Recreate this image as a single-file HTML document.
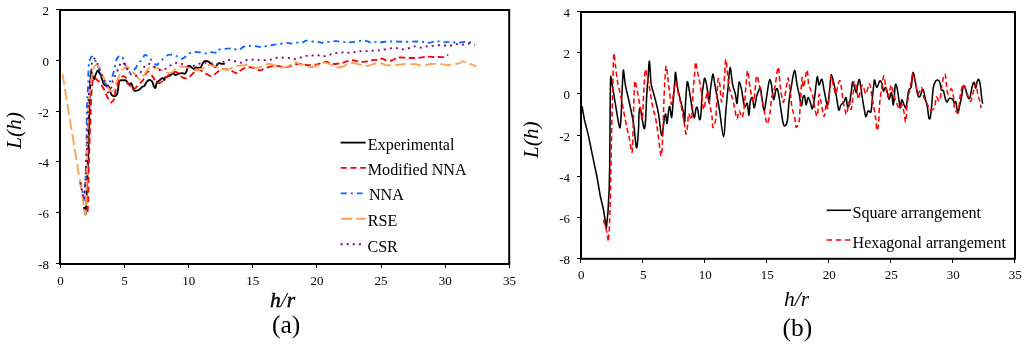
<!DOCTYPE html>
<html><head><meta charset="utf-8"><title>L(h) plots</title>
<style>
html,body{margin:0;padding:0;background:#fff;}
body{width:1024px;height:344px;overflow:hidden;font-family:"Liberation Serif","Times New Roman",serif;}
svg{display:block;}
text{font-family:"Liberation Serif","Times New Roman",serif;fill:#000;}
.tk{font-size:13px;}
.lg{font-size:16.1px;}
.lgb{font-size:16px;}
.ax{font-size:21.5px;font-style:italic;}
.axb{font-size:21.5px;font-style:italic;font-weight:bold;}
.cap{font-size:25.5px;}
.c{fill:none;stroke-width:1.85;stroke-linejoin:round;}
</style></head><body>
<svg width="1024" height="344" viewBox="0 0 1024 344">
<rect width="1024" height="344" fill="#fff"/>
<!-- plot (a) -->
<g id="pa">
<g class="c">
<path d="M84.0,207.0 L85.5,214.5 L86.0,207.7 L86.8,191.0 L88.4,150.0 L89.3,110.0 L90.2,82.6 L91.3,71.3 C91.5,71.9 91.8,73.7 92.3,75.0 C92.8,76.3 93.6,79.4 94.1,79.4 C94.6,79.4 94.9,76.5 95.5,75.0 C96.1,73.5 96.9,71.1 97.5,70.7 C98.1,70.3 98.7,71.7 99.3,72.6 C99.9,73.5 100.3,74.3 101.0,76.0 C101.7,77.7 102.6,81.5 103.3,83.0 C104.0,84.5 104.3,84.8 105.1,85.2 C105.9,85.6 107.2,85.0 108.0,85.6 C108.8,86.2 109.3,87.7 109.8,89.0 C110.3,90.3 110.4,92.6 110.9,93.7 C111.4,94.8 112.0,95.4 112.7,95.8 C113.4,96.2 114.3,96.3 115.0,96.1 C115.7,95.8 116.6,95.4 117.1,94.3 C117.6,93.2 117.7,91.3 118.0,89.6 C118.3,87.9 118.4,85.5 118.7,84.0 C119.0,82.5 118.9,81.2 119.7,80.6 C120.5,80.0 122.7,80.3 123.8,80.3 C124.9,80.3 125.6,80.1 126.2,80.6 C126.8,81.0 127.0,82.4 127.6,83.0 C128.2,83.6 129.1,84.4 129.7,84.4 C130.3,84.4 130.7,82.9 131.2,83.2 C131.7,83.5 132.2,85.3 132.6,86.5 C133.0,87.7 133.3,89.5 133.8,90.2 C134.3,90.9 134.7,90.9 135.6,90.8 C136.5,90.7 138.2,90.2 139.1,89.7 C140.0,89.2 140.5,88.4 141.1,87.9 C141.7,87.4 142.0,86.8 142.6,86.5 C143.2,86.2 143.8,86.7 144.4,86.0 C145.0,85.3 145.4,83.6 146.2,82.6 C147.0,81.6 148.1,80.2 149.1,80.0 C150.1,79.8 151.2,80.4 152.0,81.4 C152.8,82.4 153.2,85.0 153.8,86.1 C154.4,87.2 155.0,88.5 155.5,87.9 C156.0,87.3 156.0,83.9 156.7,82.6 C157.4,81.3 158.6,81.0 159.6,80.2 C160.6,79.4 161.8,77.9 162.6,77.9 C163.4,77.9 163.8,80.3 164.3,80.2 C164.8,80.1 164.7,78.0 165.5,77.3 C166.3,76.6 168.0,76.6 169.0,76.1 C170.0,75.6 170.7,74.9 171.4,74.4 C172.1,73.9 172.4,73.1 173.1,73.2 C173.8,73.3 174.6,74.9 175.5,75.0 C176.4,75.1 177.4,74.1 178.5,73.8 C179.6,73.5 180.9,73.1 182.0,73.1 C183.1,73.1 184.2,74.1 185.0,73.7 C185.8,73.3 186.2,72.0 186.7,70.8 C187.2,69.6 187.4,67.5 187.9,66.7 C188.4,65.9 189.1,65.8 189.7,65.9 C190.3,66.0 190.7,66.8 191.4,67.3 C192.1,67.8 193.1,69.0 193.8,69.0 C194.5,69.0 194.8,67.5 195.5,67.3 C196.2,67.1 197.0,67.9 197.9,67.9 C198.8,67.9 200.0,68.0 200.8,67.3 C201.6,66.6 201.9,64.8 202.5,63.8 C203.1,62.8 203.5,61.8 204.3,61.4 C205.1,61.0 206.3,61.0 207.2,61.2 C208.1,61.4 208.8,62.1 209.6,62.6 C210.4,63.1 211.2,63.7 211.9,64.3 C212.6,64.9 213.1,65.6 213.7,66.1 C214.3,66.6 214.8,67.5 215.4,67.3 C216.0,67.1 216.4,65.6 217.0,64.9 C217.6,64.2 218.3,63.4 219.0,63.2 C219.7,63.0 220.3,63.7 221.3,63.8 C222.3,63.9 224.2,63.8 224.8,63.8" stroke="#000"/>
<path d="M87.6,212.0 L88.3,200.0 L88.5,175.0 L89.3,150.0 L90.7,110.0 L91.7,88.4 C91.9,87.0 92.3,82.0 92.8,80.2 C93.3,78.4 93.9,77.7 94.5,77.5 C95.1,77.3 95.4,78.4 96.3,79.2 C97.2,80.0 98.7,81.1 99.8,82.4 C100.9,83.8 101.9,85.9 102.7,87.3 C103.5,88.7 104.1,89.4 104.8,90.8 C105.5,92.2 106.2,94.4 106.8,95.8 C107.4,97.2 107.9,98.2 108.6,99.3 C109.3,100.4 110.1,102.2 110.8,102.5 C111.5,102.8 112.1,102.0 112.7,101.3 C113.3,100.5 114.0,99.7 114.5,98.0 C115.0,96.3 115.1,92.7 115.4,91.0 C115.7,89.3 115.9,89.3 116.3,88.0 C116.7,86.7 117.5,84.7 118.0,83.2 C118.5,81.7 118.8,80.1 119.5,79.0 C120.2,77.9 121.4,77.0 122.1,76.5 C122.8,76.0 123.1,76.0 123.8,76.2 C124.5,76.5 125.5,76.8 126.2,78.0 C126.9,79.2 127.2,82.2 127.9,83.6 C128.6,84.9 129.5,85.1 130.3,86.1 C131.1,87.0 131.8,88.8 132.5,89.3 C133.2,89.8 133.7,89.5 134.4,89.0 C135.2,88.5 136.0,87.4 137.0,86.4 C138.0,85.4 139.2,84.1 140.2,83.0 C141.2,81.9 142.2,81.6 143.2,80.0 C144.2,78.4 145.3,74.6 146.2,73.2 C147.1,71.8 147.5,71.3 148.5,71.7 C149.5,72.1 150.9,74.2 152.0,75.6 C153.1,77.0 153.9,78.9 155.0,80.2 C156.1,81.5 157.3,83.0 158.5,83.2 C159.7,83.4 160.8,82.3 162.0,81.4 C163.2,80.5 164.3,79.0 165.5,77.9 C166.7,76.8 167.5,76.0 169.0,75.0 C170.5,74.0 172.8,72.4 174.3,72.0 C175.8,71.6 177.0,72.2 178.0,72.8 C179.0,73.4 179.4,74.7 180.3,75.5 C181.2,76.3 181.9,77.4 183.2,77.8 C184.5,78.2 186.5,78.3 187.9,77.8 C189.3,77.3 190.1,76.0 191.4,74.9 C192.7,73.8 194.1,72.3 195.5,71.4 C196.9,70.5 198.3,69.5 199.6,69.6 C200.9,69.7 201.8,71.2 203.1,72.0 C204.4,72.8 205.8,73.6 207.2,74.3 C208.6,75.0 210.0,76.1 211.3,76.1 C212.6,76.1 213.6,75.2 214.9,74.3 C216.2,73.4 217.6,71.7 219.0,70.8 C220.4,69.9 221.6,69.2 223.1,69.0 C224.6,68.8 226.4,69.3 227.8,69.6 C229.2,69.9 230.0,70.3 231.3,70.8 C232.6,71.3 234.2,72.4 235.4,72.8 C236.6,73.2 237.5,73.4 238.3,73.1 C239.1,72.8 239.1,71.6 240.1,70.8 C241.1,70.0 242.8,69.0 244.2,68.4 C245.6,67.8 246.7,67.4 248.3,67.3 C249.9,67.2 252.4,67.3 254.0,67.8 C255.6,68.2 256.8,69.6 258.0,70.0 C259.2,70.4 260.2,70.5 261.2,70.2 C262.2,69.9 262.6,69.0 264.1,68.4 C265.6,67.8 268.2,67.1 270.0,66.7 C271.8,66.3 273.1,66.0 274.7,65.9 C276.2,65.8 277.8,65.9 279.3,66.1 C280.9,66.3 282.6,67.2 284.0,67.3 C285.4,67.4 286.4,67.2 287.5,66.9 C288.6,66.7 289.2,66.3 290.9,65.8 C292.6,65.3 295.8,64.2 297.9,64.0 C300.0,63.8 302.1,64.4 303.8,64.6 C305.6,64.8 306.3,65.2 308.4,65.2 C310.4,65.2 314.1,64.9 316.1,64.6 C318.1,64.3 318.6,63.9 320.2,63.4 C321.8,62.9 324.4,61.7 326.0,61.7 C327.6,61.7 328.5,63.0 330.1,63.4 C331.7,63.8 333.3,64.1 335.4,64.0 C337.4,63.9 340.5,63.2 342.4,62.8 C344.2,62.4 344.9,61.8 346.5,61.4 C348.1,61.0 350.3,60.3 351.8,60.2 C353.3,60.1 353.9,60.5 355.3,60.7 C356.7,61.0 358.4,61.5 360.0,61.7 C361.6,61.9 363.1,61.9 364.7,61.7 C366.3,61.5 367.9,61.0 369.4,60.7 C370.9,60.4 372.1,60.0 373.5,59.9 C374.9,59.8 376.2,60.1 377.6,59.9 C379.0,59.7 380.1,58.6 381.7,58.7 C383.3,58.8 385.3,60.2 387.0,60.5 C388.7,60.8 390.2,60.9 391.7,60.5 C393.2,60.1 394.9,58.9 396.2,58.4 C397.5,57.9 397.8,57.6 399.7,57.5 C401.6,57.4 405.0,57.8 407.9,57.9 C410.8,58.0 414.6,58.0 417.3,57.9 C420.0,57.8 422.5,57.2 424.3,57.0 C426.1,56.8 426.7,56.7 428.4,56.7 C430.1,56.7 432.5,57.0 434.3,57.0 C436.1,57.0 437.4,57.0 439.0,57.0 C440.6,57.0 442.4,57.5 443.7,57.2 C445.0,56.9 445.8,55.5 446.6,55.2 C447.4,54.9 448.0,55.2 448.3,55.2" stroke="#FF0000" stroke-dasharray="6.2 3.5"/>
<path d="M80.0,181.0 L84.3,200.0 L85.3,181.0 L86.6,150.0 L86.7,110.0 L88.2,83.0 L88.2,78.0 C88.3,76.0 88.5,68.8 88.7,66.0 C88.9,63.2 89.1,62.6 89.6,61.0 C90.1,59.4 90.7,56.8 91.5,56.5 C92.3,56.2 93.3,58.2 94.3,59.4 C95.2,60.6 96.4,62.3 97.2,63.8 C98.0,65.3 98.6,66.8 99.2,68.6 C99.8,70.4 100.4,73.1 101.0,74.8 C101.6,76.5 102.0,77.2 102.7,78.6 C103.4,80.0 104.3,81.9 105.1,83.0 C105.8,84.1 106.5,85.0 107.2,85.0 C107.9,85.0 108.5,84.0 109.2,83.0 C109.9,82.0 110.5,80.5 111.2,78.9 C111.9,77.3 112.8,75.3 113.3,73.6 C113.8,71.8 114.1,70.0 114.5,68.4 C114.9,66.8 115.2,65.4 115.6,63.8 C116.0,62.2 116.1,60.0 116.8,58.7 C117.5,57.4 118.7,56.3 119.5,56.0 C120.3,55.7 120.7,56.2 121.5,56.9 C122.3,57.6 123.7,59.0 124.4,60.4 C125.1,61.8 125.1,63.8 125.6,65.5 C126.1,67.2 126.7,69.4 127.4,70.5 C128.1,71.6 129.2,72.1 130.0,72.3 C130.8,72.5 131.5,72.2 132.5,71.5 C133.5,70.8 134.9,69.2 135.8,67.9 C136.8,66.6 137.2,64.9 138.2,63.5 C139.2,62.1 140.9,61.1 142.0,59.7 C143.1,58.3 143.8,55.6 144.6,55.0 C145.4,54.4 146.1,55.2 147.0,55.8 C147.9,56.4 148.8,57.3 150.3,58.8 C151.8,60.3 154.6,63.7 155.9,64.6 C157.2,65.5 157.1,64.7 158.0,64.0 C158.9,63.3 159.8,62.0 161.4,60.5 C163.1,59.0 165.8,55.9 167.9,55.0 C170.1,54.1 172.8,55.0 174.3,55.2 C175.9,55.4 176.0,55.8 177.2,56.4 C178.4,57.0 180.3,58.6 181.4,58.8 C182.5,59.0 183.1,58.3 184.0,57.8 C184.9,57.2 185.7,56.3 186.7,55.5 C187.7,54.7 188.9,53.6 190.2,53.0 C191.5,52.4 192.5,52.1 194.3,52.0 C196.1,51.9 198.9,52.1 200.8,52.3 C202.7,52.5 203.9,53.4 205.5,53.4 C207.1,53.4 208.5,52.1 210.2,52.0 C211.8,51.9 214.2,53.0 215.4,52.6 C216.6,52.2 215.9,50.5 217.2,49.9 C218.5,49.3 220.9,49.4 223.1,49.1 C225.2,48.8 228.2,48.3 230.1,48.3 C231.9,48.2 232.8,48.5 234.2,48.8 C235.6,49.1 236.8,50.6 238.3,50.3 C239.8,50.0 241.5,47.8 243.0,47.1 C244.5,46.4 245.5,46.1 247.1,45.9 C248.7,45.7 250.4,45.8 252.4,45.9 C254.4,46.0 257.6,46.6 259.4,46.8 C261.1,46.9 261.5,46.9 262.9,46.8 C264.3,46.6 266.0,46.2 267.6,45.9 C269.2,45.6 270.4,45.3 272.3,45.0 C274.2,44.7 276.6,44.4 279.0,44.0 C281.4,43.6 284.9,43.0 286.8,42.9 C288.7,42.8 288.7,43.5 290.3,43.5 C291.9,43.5 294.6,42.9 296.7,42.7 C298.8,42.5 301.0,42.6 302.6,42.3 C304.2,41.9 304.5,40.7 306.1,40.6 C307.7,40.5 310.1,41.3 312.0,41.5 C313.9,41.7 315.6,41.5 317.2,41.7 C318.8,41.9 319.8,42.6 321.3,42.7 C322.8,42.8 324.2,42.3 326.0,42.1 C327.8,41.9 330.3,41.9 331.9,41.7 C333.5,41.5 333.8,41.1 335.4,41.1 C337.0,41.1 339.5,41.3 341.3,41.5 C343.1,41.7 344.6,42.2 346.0,42.3 C347.4,42.4 347.9,42.4 349.5,42.3 C351.1,42.2 353.9,41.8 355.9,41.5 C357.8,41.2 359.5,40.7 361.2,40.6 C362.9,40.5 364.2,40.4 365.9,40.8 C367.6,41.1 369.4,42.6 371.2,42.7 C372.9,42.9 374.9,41.8 376.4,41.7 C377.9,41.6 378.4,42.3 380.0,42.3 C381.6,42.3 384.1,41.8 385.8,41.7 C387.6,41.6 388.9,41.5 390.5,41.5 C392.1,41.5 393.3,41.5 395.2,41.5 C397.1,41.5 399.7,41.7 402.0,41.7 C404.3,41.7 406.8,41.7 409.1,41.7 C411.5,41.7 414.0,41.5 416.1,41.5 C418.2,41.5 420.3,41.5 422.0,41.7 C423.7,41.9 424.6,42.8 426.1,42.9 C427.7,43.0 429.7,42.5 431.3,42.3 C432.9,42.1 434.3,41.6 436.0,41.5 C437.7,41.4 439.6,41.4 441.3,41.5 C443.0,41.6 444.3,42.3 446.0,42.3 C447.7,42.3 449.6,41.4 451.3,41.5 C453.0,41.6 454.4,42.8 456.0,42.9 C457.6,43.0 459.4,42.5 461.2,42.3 C462.9,42.1 464.8,41.6 466.5,41.7 C468.2,41.8 470.4,42.5 471.2,42.7" stroke="#0868FF" stroke-dasharray="6 3.8 2.2 3.9"/>
<path d="M62.5,74.0 L85.4,215.0 L86.9,180.0 L87.2,150.0 L88.1,110.0 L89.6,93.0 C89.9,90.5 90.8,82.1 91.5,78.0 C92.2,73.9 92.9,70.7 93.7,68.5 C94.5,66.3 95.6,65.0 96.6,64.9 C97.6,64.8 99.1,66.8 99.8,68.0 C100.5,69.2 100.1,70.0 101.0,72.0 C101.9,74.0 104.0,77.8 105.1,80.2 C106.2,82.6 106.6,84.7 107.4,86.4 C108.2,88.1 109.1,89.4 109.8,90.2 C110.5,91.0 110.7,91.5 111.5,91.4 C112.3,91.3 113.8,90.9 114.5,89.6 C115.2,88.3 115.1,86.0 115.9,83.8 C116.7,81.5 118.1,78.5 119.2,76.1 C120.3,73.7 121.4,71.2 122.7,69.5 C124.0,67.8 125.8,66.3 126.8,66.1 C127.8,65.9 128.0,67.4 128.8,68.2 C129.6,69.0 130.3,69.7 131.5,70.9 C132.7,72.1 134.9,74.1 136.2,75.5 C137.5,76.9 138.2,78.5 139.1,79.1 C140.0,79.7 140.7,79.6 141.5,79.0 C142.3,78.4 142.7,77.2 143.8,75.5 C144.9,73.8 146.7,70.8 147.9,69.1 C149.1,67.4 149.9,65.9 150.9,65.6 C151.9,65.3 152.2,66.6 153.8,67.3 C155.5,68.0 158.9,68.9 160.8,69.7 C162.8,70.5 164.1,71.4 165.5,72.0 C166.9,72.6 167.7,73.3 169.0,73.2 C170.3,73.1 171.7,72.4 173.1,71.4 C174.5,70.4 175.8,68.1 177.3,67.3 C178.8,66.5 180.4,66.5 182.0,66.5 C183.6,66.5 185.1,66.9 186.7,67.3 C188.3,67.7 190.1,68.5 191.4,69.0 C192.7,69.5 192.7,70.2 194.3,70.2 C195.9,70.2 198.8,69.6 200.8,69.0 C202.8,68.4 204.8,67.4 206.1,66.7 C207.4,66.0 207.3,65.1 208.4,64.9 C209.5,64.7 210.7,65.0 212.5,65.5 C214.3,66.0 217.1,67.3 219.0,67.9 C220.9,68.5 222.5,68.7 224.2,69.0 C225.8,69.3 227.4,70.0 228.9,69.6 C230.4,69.2 231.6,67.3 233.0,66.7 C234.4,66.1 235.5,66.1 237.1,65.9 C238.7,65.7 240.6,65.7 242.4,65.5 C244.2,65.3 246.2,64.8 247.7,64.9 C249.2,65.0 249.8,65.6 251.2,66.1 C252.6,66.6 254.2,67.8 255.9,67.9 C257.6,68.0 259.6,67.2 261.2,66.7 C262.8,66.2 263.9,65.4 265.3,64.9 C266.7,64.4 267.8,63.7 269.4,63.8 C271.0,63.9 273.5,65.0 275.2,65.5 C276.9,66.0 278.0,66.4 279.3,66.7 C280.6,67.0 281.5,67.5 282.9,67.5 C284.3,67.5 286.0,67.1 287.5,66.5 C289.0,65.9 290.6,64.7 292.0,64.0 C293.4,63.3 294.7,62.1 296.1,62.2 C297.5,62.3 298.6,64.2 300.2,64.6 C301.8,65.0 303.9,64.1 305.5,64.6 C307.1,65.1 307.9,67.2 309.6,67.5 C311.3,67.8 313.7,66.9 315.5,66.3 C317.3,65.7 318.8,64.6 320.2,64.0 C321.6,63.4 322.1,62.6 323.7,62.6 C325.2,62.6 327.8,63.4 329.5,64.0 C331.2,64.6 332.7,65.7 334.2,66.3 C335.7,66.9 336.7,67.5 338.3,67.5 C339.9,67.5 341.9,67.0 343.6,66.3 C345.3,65.6 346.8,64.0 348.3,63.4 C349.8,62.8 350.8,62.7 352.4,62.8 C354.0,62.9 356.0,63.6 357.7,64.0 C359.4,64.4 360.8,64.9 362.4,65.2 C364.0,65.5 365.5,66.2 367.1,66.1 C368.7,66.0 370.1,65.1 371.8,64.6 C373.6,64.0 376.1,63.0 377.6,62.8 C379.2,62.6 379.7,63.0 381.1,63.4 C382.5,63.8 384.2,64.9 385.8,65.2 C387.4,65.5 388.8,65.2 390.5,65.2 C392.2,65.2 394.1,65.3 395.8,65.2 C397.5,65.1 399.2,64.8 400.5,64.6 C401.8,64.4 402.2,64.0 403.8,64.0 C405.4,64.0 408.2,64.3 410.2,64.3 C412.1,64.3 413.9,63.9 415.5,64.0 C417.1,64.2 417.9,65.0 419.6,65.2 C421.3,65.4 423.7,65.4 425.5,65.2 C427.3,65.0 427.9,64.2 430.2,64.0 C432.5,63.8 437.1,63.9 439.5,64.0 C441.9,64.1 443.3,64.4 444.8,64.6 C446.3,64.8 446.6,65.3 448.3,65.2 C450.0,65.1 453.0,64.3 454.8,64.0 C456.6,63.7 457.5,63.8 458.9,63.4 C460.3,63.0 461.5,61.4 463.0,61.4 C464.5,61.4 466.1,62.9 467.7,63.4 C469.3,63.9 470.9,64.1 472.4,64.6 C473.9,65.1 475.8,66.3 476.5,66.6" stroke="#FFA150" stroke-dasharray="11 4.2"/>
<path d="M80.4,182.5 L84.1,199.5 L85.4,180.0 L86.9,150.0 L87.8,110.0 L90.2,76.0 C90.4,75.0 91.0,71.8 91.3,69.8 C91.6,67.8 91.3,65.7 91.8,63.8 C92.3,61.9 93.4,58.5 94.3,58.5 C95.2,58.5 96.6,61.9 97.4,63.6 C98.2,65.3 98.6,66.9 99.3,68.8 C100.0,70.7 100.7,73.0 101.5,75.0 C102.3,77.0 103.1,78.8 103.9,80.6 C104.7,82.4 105.6,84.1 106.3,86.1 C107.0,88.0 107.1,91.8 107.9,92.3 C108.7,92.8 110.2,90.5 110.9,89.0 C111.6,87.5 111.5,85.2 112.1,83.3 C112.6,81.4 113.4,79.5 114.2,77.7 C115.0,75.9 116.0,74.0 116.8,72.2 C117.6,70.4 118.0,68.5 118.9,66.8 C119.8,65.1 120.9,62.3 122.0,62.2 C123.1,62.1 124.6,64.4 125.7,66.0 C126.8,67.6 127.3,70.0 128.5,71.6 C129.7,73.2 131.3,75.1 132.9,75.7 C134.5,76.3 136.4,76.0 137.9,75.1 C139.4,74.2 140.8,72.0 142.0,70.4 C143.2,68.8 143.9,66.7 145.3,65.6 C146.7,64.5 148.7,63.6 150.5,64.0 C152.3,64.4 154.2,66.8 155.9,67.8 C157.6,68.8 159.1,70.1 160.8,70.2 C162.5,70.3 164.4,69.4 166.1,68.5 C167.8,67.6 169.4,66.0 171.1,65.0 C172.8,64.0 174.6,63.0 176.4,62.8 C178.2,62.6 180.2,63.2 182.0,63.8 C183.8,64.3 185.4,65.8 187.3,66.1 C189.2,66.4 191.2,66.3 193.2,65.9 C195.1,65.5 197.1,64.3 199.0,63.8 C200.9,63.2 202.9,62.6 204.9,62.6 C206.9,62.6 208.9,63.3 210.8,63.5 C212.8,63.7 214.8,63.9 216.6,63.8 C218.4,63.6 220.2,63.2 221.9,62.6 C223.6,62.0 224.9,60.6 226.6,60.2 C228.3,59.8 230.2,59.9 231.9,60.2 C233.7,60.5 235.4,61.6 237.1,62.0 C238.8,62.4 240.1,62.9 241.8,62.6 C243.5,62.3 245.2,60.5 247.1,60.0 C249.0,59.5 251.1,59.7 253.0,59.7 C254.9,59.7 256.9,60.1 258.8,60.2 C260.8,60.3 262.8,60.3 264.7,60.2 C266.6,60.1 268.6,60.1 270.5,59.7 C272.4,59.3 274.4,58.2 276.4,57.9 C278.4,57.6 280.3,57.7 282.3,57.7 C284.3,57.7 286.4,57.7 288.3,57.9 C290.2,58.1 292.0,59.1 293.8,59.1 C295.6,59.1 297.2,58.4 299.1,57.9 C301.0,57.4 302.9,56.3 304.9,56.0 C306.8,55.7 308.9,56.2 310.8,56.0 C312.7,55.8 314.5,54.8 316.4,54.9 C318.3,55.0 320.4,56.3 322.3,56.4 C324.2,56.5 326.2,55.7 328.1,55.2 C330.0,54.7 331.8,53.8 333.7,53.4 C335.6,53.0 337.5,53.1 339.5,52.9 C341.5,52.7 343.8,52.3 345.7,52.3 C347.6,52.3 349.3,53.0 351.2,52.9 C353.1,52.8 355.1,51.8 357.1,51.5 C359.1,51.2 361.1,51.2 363.0,51.1 C364.9,51.0 366.9,51.2 368.8,51.1 C370.8,51.0 372.8,50.6 374.7,50.5 C376.6,50.4 378.6,50.5 380.5,50.2 C382.4,50.0 384.4,49.3 386.4,49.0 C388.4,48.7 390.4,48.3 392.3,48.2 C394.2,48.1 396.0,48.0 397.8,48.2 C399.6,48.4 401.3,49.3 403.2,49.3 C405.1,49.3 407.2,48.7 409.1,48.2 C411.1,47.7 412.9,46.5 414.9,46.4 C416.8,46.3 418.8,47.6 420.8,47.6 C422.8,47.6 424.8,46.7 426.7,46.4 C428.6,46.1 430.4,46.0 432.5,45.8 C434.6,45.6 436.9,45.2 439.0,45.2 C441.1,45.2 442.9,45.5 444.8,45.5 C446.8,45.5 448.8,45.7 450.7,45.5 C452.6,45.3 454.6,44.2 456.5,44.1 C458.4,44.0 460.4,44.8 462.4,44.7 C464.4,44.6 466.2,43.5 468.3,43.5 C470.4,43.5 473.6,44.8 474.7,45.0" stroke="#800080" stroke-dasharray="2 4.1"/>
</g>
<rect x="60" y="10" width="449.2" height="254" fill="none" stroke="#000" stroke-width="2"/>
<g stroke="#000" stroke-width="1"><line x1="56" y1="9.5" x2="60" y2="9.5"/><line x1="56" y1="60.5" x2="60" y2="60.5"/><line x1="56" y1="111.5" x2="60" y2="111.5"/><line x1="56" y1="161.5" x2="60" y2="161.5"/><line x1="56" y1="212.5" x2="60" y2="212.5"/><line x1="56" y1="263.5" x2="60" y2="263.5"/><line x1="60.5" y1="264" x2="60.5" y2="268"/><line x1="124.5" y1="264" x2="124.5" y2="268"/><line x1="188.5" y1="264" x2="188.5" y2="268"/><line x1="252.5" y1="264" x2="252.5" y2="268"/><line x1="316.5" y1="264" x2="316.5" y2="268"/><line x1="381.5" y1="264" x2="381.5" y2="268"/><line x1="445.5" y1="264" x2="445.5" y2="268"/><line x1="509.5" y1="264" x2="509.5" y2="268"/></g>
<g class="tk"><text x="49" y="15.0" text-anchor="end">2</text><text x="49" y="65.8" text-anchor="end">0</text><text x="49" y="116.6" text-anchor="end">-2</text><text x="49" y="167.4" text-anchor="end">-4</text><text x="49" y="218.2" text-anchor="end">-6</text><text x="49" y="269.0" text-anchor="end">-8</text><text x="60.4" y="284.6" text-anchor="middle">0</text><text x="124.5" y="284.6" text-anchor="middle">5</text><text x="188.7" y="284.6" text-anchor="middle">10</text><text x="252.8" y="284.6" text-anchor="middle">15</text><text x="317.0" y="284.6" text-anchor="middle">20</text><text x="381.1" y="284.6" text-anchor="middle">25</text><text x="445.2" y="284.6" text-anchor="middle">30</text><text x="509.4" y="284.6" text-anchor="middle">35</text></g>
<text class="ax" transform="translate(20.6,149) rotate(-90)">L(h)</text>
<text class="ax" x="270" y="307" font-size="22" stroke="#000" stroke-width="0.45">h<tspan stroke="none">/</tspan>r</text>
<text class="cap" x="272" y="333">(a)</text>
<g stroke-width="1.85" fill="none">
<line x1="340.6" y1="142.6" x2="365.6" y2="142.6" stroke="#000"/>
<line x1="340.8" y1="167.9" x2="365.9" y2="167.9" stroke="#FF0000" stroke-dasharray="6 3.7"/>
<line x1="340.8" y1="193.3" x2="362.6" y2="193.3" stroke="#0868FF" stroke-dasharray="6 3.8 2.2 3.9"/>
<line x1="340.9" y1="218.7" x2="365.7" y2="218.7" stroke="#FFA150" stroke-dasharray="11.2 4.1"/>
<line x1="340.6" y1="244.2" x2="362" y2="244.2" stroke="#800080" stroke-dasharray="2 4.1"/>
</g>
<g class="lg">
<text x="367.8" y="150">Experimental</text>
<text x="367.8" y="175.2">Modified NNA</text>
<text x="369" y="200.4">NNA</text>
<text x="367.8" y="226">RSE</text>
<text x="367.4" y="251.6">CSR</text>
</g>
</g>
<!-- plot (b) -->
<g id="pb">
<g class="c">
<path d="M582.0,106.4 L584.5,120.0 L588.2,134.6 L591.8,152.2 L595.5,169.8 L597.1,177.5 L600.1,195.2 L603.4,209.2 L605.2,220.8 L606.4,227.8 L608.0,211.5 L609.2,188.3 L609.7,165.0 L610.0,130.0 L610.2,102.0 L610.5,82.0 C610.5,81.0 610.6,75.9 610.8,75.9 C611.0,75.9 611.4,79.4 611.8,82.0 C612.2,84.6 612.6,86.7 613.4,91.7 C614.2,96.7 615.7,106.2 616.7,112.2 C617.8,118.2 619.0,127.1 619.7,127.8 C620.4,128.5 620.7,122.1 621.1,116.6 C621.5,111.1 621.6,101.0 621.9,94.6 C622.2,88.2 622.5,82.1 622.8,78.0 C623.0,73.9 623.1,70.3 623.4,70.0 C623.6,69.7 623.9,73.3 624.3,76.0 C624.6,78.7 624.7,81.6 625.5,85.9 C626.3,90.2 627.9,95.7 629.2,102.0 C630.6,108.3 632.4,116.3 633.6,123.9 C634.8,131.5 635.7,146.8 636.5,147.8 C637.3,148.8 638.1,135.5 638.5,129.8 C638.9,124.1 638.7,117.4 639.0,113.7 C639.3,110.0 639.8,107.5 640.2,107.8 C640.6,108.0 641.0,111.7 641.6,115.2 C642.2,118.7 643.5,127.6 644.1,128.6 C644.8,129.6 645.0,126.7 645.5,121.0 C646.0,115.3 646.3,102.1 646.8,94.6 C647.2,87.1 647.8,81.6 648.2,76.0 C648.6,70.4 648.9,61.9 649.3,61.2 C649.6,60.5 650.0,68.1 650.3,72.0 C650.6,75.9 650.5,80.1 651.2,84.4 C652.0,88.7 653.6,92.7 654.8,97.6 C656.0,102.5 657.4,107.4 658.5,113.7 C659.6,120.0 660.7,134.7 661.7,135.4 C662.7,136.1 663.7,121.6 664.4,118.1 C665.1,114.6 665.4,113.5 665.8,114.4 C666.2,115.3 666.5,124.3 667.0,123.5 C667.5,122.7 668.3,112.0 668.8,109.3 C669.3,106.6 669.4,105.8 669.9,107.1 C670.4,108.4 671.2,118.2 671.7,117.4 C672.2,116.6 672.6,107.5 673.1,102.0 C673.6,96.5 674.2,89.3 674.6,84.4 C675.0,79.5 675.1,73.6 675.4,72.5 C675.7,71.4 675.9,75.5 676.3,78.0 C676.6,80.5 676.8,83.5 677.5,87.3 C678.2,91.0 679.5,96.3 680.5,100.5 C681.5,104.7 682.7,108.7 683.4,112.2 C684.1,115.7 684.2,123.4 684.6,121.7 C685.0,120.0 685.2,108.1 685.6,102.0 C686.0,95.9 686.5,88.4 686.8,85.0 C687.1,81.6 687.2,81.5 687.5,81.7 C687.8,81.9 688.0,83.0 688.5,85.9 C689.0,88.8 690.1,95.1 690.7,99.0 C691.3,102.9 691.6,106.1 692.2,109.3 C692.8,112.5 693.8,118.1 694.4,118.1 C695.0,118.1 695.3,111.0 695.8,109.3 C696.3,107.6 696.7,106.1 697.3,107.8 C697.9,109.5 698.9,118.5 699.5,119.5 C700.1,120.5 700.6,117.9 701.0,113.7 C701.4,109.5 701.6,100.0 702.1,94.6 C702.6,89.2 703.5,84.2 703.9,81.5 C704.3,78.8 704.3,77.7 704.8,78.4 C705.3,79.1 706.1,81.9 706.8,85.9 C707.5,90.0 708.4,102.2 709.0,102.7 C709.6,103.2 710.0,92.8 710.5,88.8 C711.0,84.8 711.6,81.0 712.0,78.5 C712.4,76.0 712.7,73.9 713.0,74.0 C713.3,74.1 713.6,76.5 714.0,79.0 C714.4,81.5 714.7,83.8 715.6,88.8 C716.5,93.8 718.1,101.3 719.4,109.3 C720.7,117.3 722.5,136.8 723.6,136.8 C724.7,136.8 725.2,117.8 726.0,109.3 C726.8,100.8 727.5,92.9 728.2,85.9 C728.9,78.9 729.4,67.8 730.1,67.5 C730.8,67.2 731.7,79.9 732.6,84.4 C733.5,88.9 734.8,91.4 735.5,94.6 C736.2,97.8 736.5,104.4 737.0,103.4 C737.5,102.4 738.0,92.4 738.4,88.8 C738.8,85.2 738.7,81.7 739.2,81.7 C739.7,81.7 740.7,85.4 741.4,88.8 C742.1,92.2 743.0,99.0 743.6,102.0 C744.2,105.0 744.4,106.9 745.0,107.1 C745.6,107.3 746.5,102.1 747.2,103.4 C747.9,104.8 748.5,115.4 749.0,115.2 C749.5,115.0 749.6,104.9 750.2,102.0 C750.8,99.1 751.7,96.6 752.4,97.6 C753.1,98.6 753.6,108.0 754.3,107.8 C755.0,107.5 755.9,99.0 756.7,96.1 C757.5,93.2 758.3,91.6 758.9,90.3 C759.5,89.0 759.9,86.9 760.4,88.1 C760.9,89.3 761.3,93.8 761.9,97.6 C762.5,101.4 763.4,110.6 764.1,110.8 C764.8,111.0 765.6,103.4 766.3,99.0 C767.0,94.6 767.9,87.7 768.5,84.4 C769.1,81.2 769.4,79.5 769.9,79.5 C770.4,79.5 770.8,81.1 771.4,84.4 C772.0,87.7 772.9,98.5 773.6,99.5 C774.3,100.5 775.2,92.1 775.8,90.3 C776.4,88.5 776.8,88.1 777.3,88.8 C777.8,89.5 778.1,91.2 778.7,94.6 C779.3,98.0 780.2,104.6 780.9,109.3 C781.6,114.0 782.4,120.2 783.1,123.0 C783.8,125.8 784.3,126.2 785.0,125.9 C785.7,125.6 786.6,125.0 787.3,121.0 C788.0,117.0 788.4,107.6 789.0,102.0 C789.6,96.4 790.3,92.5 791.2,87.3 C792.1,82.0 793.5,71.0 794.5,70.5 C795.5,70.0 796.2,80.4 797.0,84.4 C797.8,88.4 798.5,91.1 799.2,94.6 C799.9,98.1 800.8,105.1 801.4,105.6 C802.0,106.1 802.4,99.2 802.9,97.6 C803.4,96.0 804.1,94.9 804.6,96.1 C805.1,97.3 805.5,104.7 806.1,104.9 C806.7,105.2 807.3,98.1 808.0,97.6 C808.7,97.1 809.5,100.2 810.2,102.0 C810.9,103.8 811.7,109.3 812.4,108.6 C813.1,107.9 814.0,101.6 814.6,97.6 C815.2,93.6 815.6,87.9 816.1,84.4 C816.6,80.9 817.0,76.5 817.5,76.6 C818.0,76.7 818.3,84.6 819.0,85.1 C819.7,85.5 821.0,78.4 821.9,79.3 C822.8,80.2 823.2,86.0 824.1,90.3 C825.0,94.6 826.4,103.2 827.1,104.9 C827.8,106.6 828.0,103.7 828.5,100.5 C829.0,97.3 829.5,90.2 830.0,85.9 C830.5,81.6 830.7,74.4 831.4,74.4 C832.1,74.4 833.5,82.0 834.4,85.9 C835.3,89.8 835.9,93.6 836.6,97.6 C837.3,101.6 838.1,108.8 838.8,110.0 C839.5,111.2 840.1,106.2 841.0,104.9 C841.9,103.6 843.0,103.2 843.9,102.0 C844.8,100.8 845.5,96.8 846.1,97.6 C846.7,98.4 847.0,106.4 847.6,107.1 C848.2,107.8 849.1,105.5 849.8,102.0 C850.5,98.5 851.5,89.3 852.0,85.9 C852.5,82.5 852.3,81.7 852.7,81.7 C853.1,81.7 853.6,84.1 854.2,85.9 C854.8,87.7 855.7,92.8 856.3,92.5 C856.9,92.2 857.3,86.6 857.8,84.4 C858.3,82.2 858.8,79.2 859.3,79.5 C859.8,79.8 860.2,83.1 860.7,86.0 C861.2,88.9 861.6,93.0 862.2,97.0 C862.8,101.0 863.8,106.9 864.4,110.2 C865.0,113.5 865.3,116.6 865.9,116.7 C866.5,116.8 867.2,111.8 868.1,110.9 C869.0,110.1 870.3,113.9 871.0,111.6 C871.7,109.3 872.0,101.6 872.5,97.0 C873.0,92.4 873.5,86.6 873.9,83.8 C874.2,81.0 874.1,79.5 874.6,80.1 C875.1,80.7 875.9,87.4 876.8,87.5 C877.7,87.6 878.9,81.5 879.8,80.9 C880.7,80.3 881.4,82.1 882.0,83.8 C882.6,85.5 882.8,90.5 883.4,91.1 C884.0,91.7 884.9,87.0 885.6,87.5 C886.3,88.0 887.2,92.0 887.8,94.0 C888.4,96.0 888.7,99.4 889.3,99.2 C889.9,99.0 890.8,91.6 891.5,92.6 C892.2,93.6 892.8,106.1 893.4,105.0 C894.0,103.9 894.7,89.2 895.2,86.0 C895.7,82.8 896.1,84.7 896.6,86.0 C897.1,87.3 897.5,90.3 898.1,94.0 C898.7,97.7 899.7,107.0 900.3,108.0 C900.9,109.0 901.1,100.5 901.7,99.9 C902.3,99.3 903.2,103.0 903.9,104.3 C904.6,105.6 905.5,109.2 906.1,108.0 C906.7,106.8 907.1,100.1 907.6,97.0 C908.1,93.9 908.5,91.3 909.1,89.6 C909.7,87.9 910.6,89.5 911.3,86.7 C911.9,83.9 912.3,73.0 913.0,72.5 C913.7,72.0 914.9,80.0 915.7,83.8 C916.5,87.6 917.2,93.4 917.9,95.5 C918.6,97.6 919.4,97.2 920.1,96.2 C920.8,95.2 921.7,90.4 922.3,89.6 C922.9,88.8 923.2,89.6 923.7,91.1 C924.2,92.6 924.6,95.7 925.2,98.4 C925.8,101.1 926.8,104.0 927.4,107.2 C928.0,110.4 928.3,115.8 928.8,117.5 C929.3,119.2 929.8,119.7 930.3,117.5 C930.8,115.3 931.3,109.2 931.8,104.3 C932.3,99.4 932.6,92.0 933.2,88.2 C933.8,84.4 934.7,82.9 935.4,81.6 C936.1,80.2 936.9,80.0 937.6,80.1 C938.3,80.2 939.2,80.7 939.8,82.3 C940.4,83.9 940.7,88.1 941.3,89.6 C941.9,91.1 942.8,89.4 943.5,91.1 C944.2,92.8 945.1,98.1 945.7,99.9 C946.3,101.7 946.6,102.3 947.2,102.1 C947.8,101.8 948.4,98.9 949.3,98.4 C950.1,97.9 951.4,98.5 952.3,99.2 C953.2,99.9 953.9,102.3 954.5,102.8 C955.1,103.3 955.4,100.4 955.9,102.1 C956.4,103.8 957.2,112.5 957.8,113.1 C958.4,113.7 958.9,108.7 959.6,105.8 C960.3,102.9 961.2,98.8 961.8,95.5 C962.4,92.2 962.7,87.1 963.3,86.0 C963.9,84.9 964.8,87.1 965.5,88.9 C966.2,90.7 967.0,95.5 967.7,97.0 C968.4,98.5 969.2,99.4 969.9,97.7 C970.6,96.0 971.4,89.3 972.1,86.7 C972.8,84.1 973.4,82.0 974.0,82.3 C974.6,82.5 975.2,88.3 975.7,88.2 C976.2,88.1 976.7,83.1 977.2,81.6 C977.7,80.1 978.1,79.0 978.6,79.4 C979.1,79.8 979.6,80.9 980.1,83.8 C980.6,86.7 981.2,93.7 981.6,97.0 C982.0,100.3 982.5,102.5 982.7,103.6" stroke="#000" stroke-width="1.55"/>
<path d="M603.4,219.7 L606.4,230.1 L608.3,241.7 L609.4,227.8 L610.3,199.9 L611.0,165.0 L611.9,120.0 L612.8,85.9 C613.0,80.6 613.3,57.2 613.8,53.9 C614.2,50.6 614.9,61.4 615.5,66.0 C616.1,70.6 616.7,76.7 617.5,81.5 C618.3,86.3 619.4,90.0 620.4,94.6 C621.4,99.2 622.2,103.7 623.3,109.3 C624.4,114.9 626.0,123.6 627.0,128.3 C628.0,133.0 628.4,133.6 629.2,137.6 C630.1,141.6 631.4,154.3 632.1,152.2 C632.8,150.1 632.9,133.4 633.2,125.0 C633.5,116.6 633.6,108.8 633.8,102.0 C634.0,95.2 634.4,87.5 634.6,84.0 C634.8,80.5 634.9,80.7 635.2,81.0 C635.5,81.3 635.8,83.7 636.3,86.0 C636.8,88.3 637.2,90.2 638.0,94.6 C638.8,99.0 640.2,108.0 640.9,112.2 C641.6,116.4 641.9,122.4 642.4,119.5 C642.9,116.6 643.2,101.5 643.6,94.6 C644.0,87.7 644.3,82.2 644.6,78.0 C644.9,73.8 645.0,69.6 645.4,69.3 C645.8,69.0 646.3,72.8 647.0,76.0 C647.7,79.2 648.8,83.7 649.7,88.8 C650.6,93.9 651.5,101.0 652.6,106.4 C653.7,111.8 655.1,115.8 656.1,121.0 C657.1,126.2 657.7,131.8 658.5,137.6 C659.3,143.4 660.4,155.7 661.1,155.9 C661.8,156.1 662.2,145.0 662.6,139.0 C663.0,133.0 663.1,126.2 663.3,120.0 C663.5,113.8 663.6,108.2 663.9,102.0 C664.1,95.8 664.4,88.9 664.8,82.9 C665.2,76.9 665.6,67.4 666.1,66.1 C666.6,64.8 667.1,71.7 667.5,75.0 C667.9,78.3 668.1,81.4 668.7,85.9 C669.3,90.4 670.4,99.1 670.9,102.0 C671.4,104.9 671.2,104.6 671.6,103.4 C672.0,102.2 672.9,97.8 673.4,94.6 C673.9,91.4 674.2,86.3 674.6,84.4 C675.0,82.5 675.4,81.7 676.0,83.0 C676.6,84.3 677.2,88.3 678.0,92.0 C678.8,95.7 679.9,99.2 681.0,105.0 C682.1,110.8 684.1,122.2 684.9,127.0 C685.7,131.8 685.5,134.4 686.0,133.9 C686.5,133.4 687.4,127.3 687.8,123.9 C688.2,120.5 687.9,114.4 688.5,113.7 C689.1,113.0 690.8,120.2 691.4,119.5 C692.0,118.8 692.0,113.5 692.2,109.3 C692.5,105.1 692.5,100.1 692.9,94.6 C693.3,89.0 693.9,81.4 694.4,76.0 C694.9,70.6 695.1,62.7 695.6,62.0 C696.1,61.3 696.7,68.3 697.5,72.0 C698.3,75.7 699.4,79.4 700.2,84.4 C701.0,89.4 701.8,97.8 702.4,102.0 C703.0,106.2 703.3,110.0 703.9,109.3 C704.5,108.6 705.4,101.0 706.0,98.0 C706.6,95.0 707.0,89.8 707.6,91.0 C708.2,92.2 709.1,100.6 709.8,104.9 C710.5,109.2 711.5,112.9 712.0,116.6 C712.5,120.3 712.3,126.8 712.9,127.3 C713.5,127.8 714.9,125.0 715.6,119.5 C716.3,114.0 716.7,101.4 717.1,94.6 C717.5,87.8 717.7,80.2 718.2,78.8 C718.7,77.3 719.5,82.0 720.0,85.9 C720.5,89.8 720.9,101.5 721.5,102.0 C722.1,102.5 723.0,95.8 723.7,88.8 C724.4,81.8 725.1,62.3 725.7,59.8 C726.3,57.3 726.9,69.2 727.5,74.0 C728.1,78.8 728.8,84.6 729.6,88.8 C730.5,93.0 731.7,95.6 732.6,99.0 C733.5,102.4 734.1,106.0 734.8,109.3 C735.5,112.6 736.3,118.5 737.0,118.8 C737.7,119.0 738.4,111.0 739.2,110.8 C740.1,110.6 741.2,118.1 742.1,117.4 C743.0,116.7 743.7,111.4 744.3,106.4 C744.9,101.4 745.2,93.2 745.8,87.3 C746.4,81.4 747.0,70.5 747.7,70.8 C748.4,71.0 749.2,83.6 750.2,88.8 C751.2,94.0 752.5,102.2 753.4,102.0 C754.2,101.8 754.8,91.6 755.3,87.3 C755.8,83.0 756.1,76.6 756.7,75.9 C757.3,75.2 758.0,79.1 758.9,82.9 C759.8,86.8 760.9,93.9 761.9,99.0 C762.9,104.1 763.9,109.6 764.8,113.7 C765.7,117.8 766.4,123.8 767.3,123.8 C768.1,123.8 769.2,117.8 769.9,113.7 C770.6,109.6 770.9,102.4 771.4,99.0 C771.9,95.6 772.3,95.4 772.9,93.2 C773.5,91.0 774.2,90.2 775.1,85.9 C776.0,81.6 777.4,67.1 778.3,67.1 C779.1,67.1 779.4,80.1 780.2,85.9 C781.0,91.7 782.2,100.8 783.1,102.0 C784.0,103.2 784.7,96.1 785.3,93.2 C785.9,90.3 786.3,86.9 786.8,84.4 C787.3,81.9 787.7,77.6 788.2,78.1 C788.7,78.6 789.1,82.6 789.7,87.3 C790.3,92.0 791.0,101.3 791.9,106.4 C792.8,111.5 794.1,114.6 794.8,118.1 C795.5,121.6 795.5,126.8 796.2,127.3 C796.9,127.8 798.6,124.0 799.2,121.0 C799.8,118.0 799.6,115.1 800.0,109.3 C800.4,103.5 801.0,91.2 801.4,85.9 C801.8,80.6 801.8,77.2 802.2,77.4 C802.6,77.6 802.8,88.5 803.6,87.3 C804.4,86.1 806.1,70.5 807.0,70.0 C807.9,69.5 807.8,80.3 808.7,84.4 C809.6,88.5 811.3,90.2 812.4,94.6 C813.5,99.0 814.4,107.4 815.3,110.8 C816.1,114.2 816.9,117.9 817.5,115.2 C818.1,112.5 818.4,96.6 819.0,94.6 C819.6,92.6 820.4,99.7 821.2,103.4 C822.1,107.1 823.2,116.6 824.1,116.6 C825.0,116.6 825.7,104.9 826.3,103.4 C826.9,101.9 827.2,110.5 827.8,107.8 C828.4,105.1 829.4,92.6 830.0,87.3 C830.6,82.0 830.6,76.2 831.2,76.0 C831.8,75.8 832.7,83.0 833.5,86.0 C834.3,89.0 835.0,94.2 835.8,94.0 C836.5,93.8 837.3,86.7 838.0,84.5 C838.7,82.3 839.6,80.0 840.2,81.0 C840.8,82.0 841.2,86.8 841.7,90.3 C842.2,93.8 842.6,98.5 843.2,102.0 C843.8,105.5 844.8,109.5 845.4,111.5 C846.0,113.5 846.2,115.3 846.8,113.7 C847.4,112.1 848.3,102.7 849.0,102.0 C849.7,101.3 850.5,111.0 851.2,109.3 C851.9,107.6 852.9,96.3 853.4,91.7 C853.9,87.1 853.7,82.4 854.2,81.7 C854.7,81.0 855.6,84.4 856.3,87.3 C857.0,90.2 857.8,98.8 858.5,99.0 C859.2,99.2 860.0,91.1 860.7,88.8 C861.4,86.5 862.0,84.5 862.9,85.4 C863.8,86.3 864.8,94.3 865.9,94.0 C867.0,93.7 868.5,83.3 869.5,83.8 C870.5,84.3 871.2,93.0 872.0,97.0 C872.8,101.0 873.4,104.3 874.0,107.9 C874.6,111.5 875.2,114.7 875.7,118.4 C876.2,122.2 876.5,129.8 877.0,130.4 C877.5,131.0 878.3,126.0 878.7,122.0 C879.1,118.0 879.0,111.7 879.4,106.7 C879.8,101.7 880.4,97.1 881.1,92.0 C881.8,86.9 883.0,77.1 883.7,76.0 C884.5,74.9 884.9,81.8 885.6,85.3 C886.3,88.8 887.1,96.3 887.8,97.0 C888.5,97.7 889.4,91.5 890.0,89.6 C890.6,87.6 890.8,84.1 891.5,85.3 C892.2,86.5 893.4,93.7 894.4,97.0 C895.4,100.3 896.5,103.0 897.4,105.0 C898.2,107.0 898.8,108.8 899.5,108.7 C900.2,108.6 901.0,103.8 901.7,104.3 C902.4,104.8 903.2,108.7 903.9,111.6 C904.6,114.5 905.2,123.1 905.7,121.9 C906.2,120.7 906.5,109.7 907.2,104.3 C907.9,98.9 909.0,94.0 909.8,89.6 C910.6,85.2 911.5,80.5 912.0,77.9 C912.5,75.3 912.4,73.0 913.0,74.0 C913.6,75.0 914.9,80.5 915.7,83.8 C916.5,87.1 916.9,93.4 917.9,94.0 C918.9,94.6 920.5,87.0 921.5,87.5 C922.5,88.0 922.7,94.2 923.7,97.0 C924.7,99.8 926.4,102.1 927.4,104.3 C928.4,106.5 928.8,109.7 930.0,110.2 C931.2,110.7 933.7,109.4 934.7,107.2 C935.7,105.0 935.4,98.1 936.2,97.0 C937.1,95.9 938.8,102.8 939.8,100.6 C940.8,98.4 941.1,88.2 942.0,83.8 C942.9,79.4 944.3,74.0 945.0,74.0 C945.7,74.0 945.9,80.5 946.4,83.8 C946.9,87.1 947.0,93.2 947.9,94.0 C948.8,94.8 950.5,88.2 951.5,88.9 C952.5,89.6 953.2,95.1 953.7,98.4 C954.2,101.7 953.8,106.5 954.5,108.7 C955.2,110.9 957.1,113.8 958.1,111.6 C959.1,109.4 959.4,100.0 960.3,95.5 C961.2,91.0 962.2,85.0 963.3,84.5 C964.4,84.0 965.7,89.8 966.9,92.6 C968.1,95.4 969.5,101.7 970.6,101.4 C971.7,101.2 972.6,94.0 973.5,91.1 C974.4,88.2 975.1,83.8 975.7,83.8 C976.3,83.8 976.6,88.4 977.2,91.1 C977.8,93.8 978.7,97.1 979.4,99.9 C980.1,102.7 981.0,106.7 981.3,108.0" stroke="#FF0000" stroke-width="1.55" stroke-dasharray="5.2 3"/>
</g>
<rect x="581" y="12" width="434" height="246.8" fill="none" stroke="#000" stroke-width="2"/>
<g stroke="#000" stroke-width="1"><line x1="577" y1="11.5" x2="581" y2="11.5"/><line x1="577" y1="52.5" x2="581" y2="52.5"/><line x1="577" y1="93.5" x2="581" y2="93.5"/><line x1="577" y1="135.5" x2="581" y2="135.5"/><line x1="577" y1="176.5" x2="581" y2="176.5"/><line x1="577" y1="217.5" x2="581" y2="217.5"/><line x1="577" y1="258.5" x2="581" y2="258.5"/><line x1="580.5" y1="259" x2="580.5" y2="263"/><line x1="642.5" y1="259" x2="642.5" y2="263"/><line x1="704.5" y1="259" x2="704.5" y2="263"/><line x1="766.5" y1="259" x2="766.5" y2="263"/><line x1="828.5" y1="259" x2="828.5" y2="263"/><line x1="890.5" y1="259" x2="890.5" y2="263"/><line x1="952.5" y1="259" x2="952.5" y2="263"/><line x1="1014.5" y1="259" x2="1014.5" y2="263"/></g>
<g class="tk"><text x="570" y="17.0" text-anchor="end">4</text><text x="570" y="58.2" text-anchor="end">2</text><text x="570" y="99.3" text-anchor="end">0</text><text x="570" y="140.5" text-anchor="end">-2</text><text x="570" y="181.7" text-anchor="end">-4</text><text x="570" y="222.9" text-anchor="end">-6</text><text x="570" y="264.0" text-anchor="end">-8</text><text x="581.3" y="279.2" text-anchor="middle">0</text><text x="643.3" y="279.2" text-anchor="middle">5</text><text x="705.3" y="279.2" text-anchor="middle">10</text><text x="767.3" y="279.2" text-anchor="middle">15</text><text x="829.3" y="279.2" text-anchor="middle">20</text><text x="891.3" y="279.2" text-anchor="middle">25</text><text x="953.3" y="279.2" text-anchor="middle">30</text><text x="1015.3" y="279.2" text-anchor="middle">35</text></g>
<text class="ax" transform="translate(537.8,158.3) rotate(-90)">L(h)</text>
<text class="ax" x="784" y="306.3">h/r</text>
<text class="cap" x="782.5" y="336.2">(b)</text>
<g stroke-width="1.6" fill="none">
<line x1="826.7" y1="210.3" x2="851" y2="210.3" stroke="#000"/>
<line x1="826.6" y1="240" x2="851.2" y2="240" stroke="#FF0000" stroke-dasharray="5.4 3.8"/>
</g>
<g class="lgb">
<text x="852.6" y="218">Square arrangement</text>
<text x="852.6" y="247.6">Hexagonal arrangement</text>
</g>
</g>
</svg>
</body></html>
